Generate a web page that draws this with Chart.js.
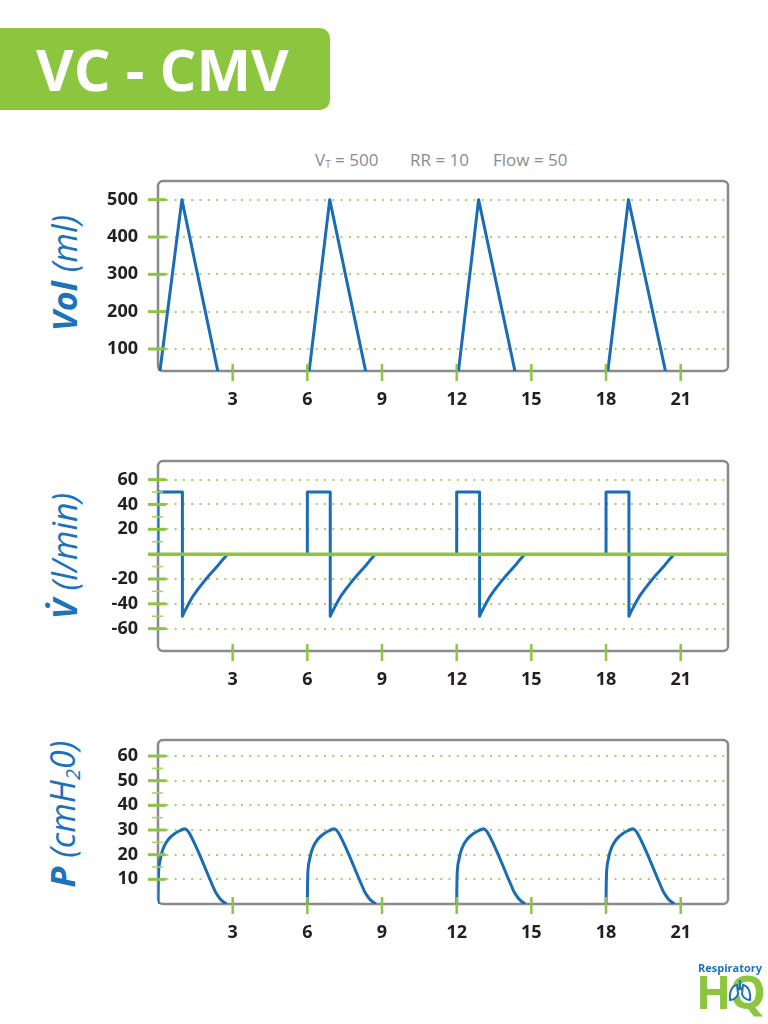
<!DOCTYPE html>
<html>
<head>
<meta charset="utf-8">
<title>VC - CMV</title>
<script src="https://cdn.jsdelivr.net/npm/chart.js@4.4.1/dist/chart.umd.min.js"></script>
<style>
  body { margin: 0; width: 768px; height: 1024px; background: #fff; position: relative; overflow: hidden; font-family: 'Open Sans', sans-serif; }
  .banner { position: absolute; left: -12px; top: 28px; width: 342px; height: 82px; background: #8cc63f; border-radius: 10px; color: #fff; font-weight: 700; font-size: 58px; line-height: 82px; padding-left: 48px; box-sizing: border-box; white-space: nowrap; }
  .settings { position: absolute; top: 149px; left: 0; color: #8c8c8c; font-size: 17px; line-height: 22px; white-space: nowrap; }
  .settings span { position: absolute; top: 0; }
  .settings sub { font-size: 10px; vertical-align: -2px; }
  .ytitle { position: absolute; left: 64px; color: #1c73ba; font-size: 34px; font-style: italic; white-space: nowrap; transform: translate(-50%, -50%) rotate(-90deg); line-height: 1; }
  .ytitle b { font-weight: 700; }
  .ytitle span { font-weight: 400; }
  .ytitle sub { font-size: 20px; vertical-align: -5px; }
  canvas { position: absolute; left: 0; }
  .logo1 { position: absolute; left: 698px; top: 960px; color: #1c73ba; font-weight: 700; font-size: 11px; }
  .logo2 { position: absolute; left: 696px; top: 966px; color: #8cc63f; font-weight: 700; font-size: 46px; line-height: 50px; letter-spacing: -2px; }
  .lungs { position: absolute; left: 727px; top: 978px; }
</style>
</head>
<body>
<div class="banner">VC - CMV</div>
<div class="settings">
  <span style="left:315px">V<sub>T</sub> = 500</span>
  <span style="left:410px">RR = 10</span>
  <span style="left:493px">Flow = 50</span>
</div>

<div class="ytitle" style="top:273px"><b>Vol</b> <span>(ml)</span></div>
<div class="ytitle" style="top:556px"><b>V&#775;</b> <span>(l/min)</span></div>
<div class="ytitle" style="top:814px"><b>P</b> <span>(cmH<sub>2</sub>0)</span></div>

<canvas id="volChart" width="768" height="250" style="top:170px"></canvas>
<canvas id="flowChart" width="768" height="250" style="top:450px"></canvas>
<canvas id="presChart" width="768" height="241" style="top:729px"></canvas>

<div class="logo1">Respiratory</div>
<div class="logo2">HQ</div>
<svg class="lungs" width="26" height="26" viewBox="0 0 26 26">
  <path d="M13 2 V12 M13 9 L9 13 M13 9 L17 13" stroke="#1c73ba" stroke-width="2" fill="none"/>
  <path d="M10 7 C4 8 2 16 3 22 C6 22 10 20 11 16 Z" stroke="#1c73ba" stroke-width="2" fill="#fff"/>
  <path d="M16 7 C22 8 24 16 23 22 C20 22 16 20 15 16 Z" stroke="#1c73ba" stroke-width="2" fill="#fff"/>
</svg>

<script>
// time axis (seconds)
const xTicks = [3, 6, 9, 12, 15, 18, 21];

// volume (ml)
const volTicks = [100, 200, 300, 400, 500];
const volTime  = [0, 0.96, 2.53, 6, 6.9, 8.47, 12, 12.88, 14.47, 18, 18.9, 20.52];
const volValue = [0, 500, 0, 0, 500, 0, 0, 500, 0, 0, 500, 0];

// flow (l/min)
const flowTicks = [60, 40, 20, -20, -40, -60];
const flowMinor = [50, 30, 10, -10, -30, -50];
const flowTime = [
  0, 0, 0.98, 0.98, 1.06, 1.16, 1.28, 1.42, 1.6, 1.82, 2.02, 2.22, 2.4, 2.56, 2.68, 2.79, 4,
  6, 6, 6.92, 6.92, 7.0, 7.1, 7.22, 7.36, 7.54, 7.76, 7.96, 8.16, 8.34, 8.5, 8.62, 8.73, 10,
  12, 12, 12.92, 12.92, 13.0, 13.1, 13.22, 13.36, 13.54, 13.76, 13.96, 14.16, 14.34, 14.5, 14.62, 14.73, 16,
  18, 18, 18.92, 18.92, 19.0, 19.1, 19.22, 19.36, 19.54, 19.76, 19.96, 20.16, 20.34, 20.5, 20.62, 20.73
];
const flowValue = [
  0, 50, 50, -50, -46.5, -42.7, -38.2, -33.4, -28.4, -22.7, -17.9, -13.4, -9.3, -5.4, -2.7, 0, null,
  0, 50, 50, -50, -46.5, -42.7, -38.2, -33.4, -28.4, -22.7, -17.9, -13.4, -9.3, -5.4, -2.7, 0, null,
  0, 50, 50, -50, -46.5, -42.7, -38.2, -33.4, -28.4, -22.7, -17.9, -13.4, -9.3, -5.4, -2.7, 0, null,
  0, 50, 50, -50, -46.5, -42.7, -38.2, -33.4, -28.4, -22.7, -17.9, -13.4, -9.3, -5.4, -2.7, 0
];

// pressure (cmH2O)
const presTicks = [10, 20, 30, 40, 50, 60];
const presMinor = [15, 25, 35, 45, 55];
const presTime = [
  0, 0.01, 0.03, 0.09, 0.16, 0.25, 0.38, 0.52, 0.68, 0.85, 1.0, 1.08, 1.16, 1.25, 2.2, 2.3, 2.4, 2.5, 2.63, 2.75, 4,
  6, 6.01, 6.03, 6.09, 6.16, 6.25, 6.38, 6.52, 6.68, 6.85, 7.0, 7.08, 7.16, 7.25, 8.2, 8.3, 8.4, 8.5, 8.63, 8.75, 10,
  12, 12.01, 12.03, 12.09, 12.16, 12.25, 12.38, 12.52, 12.68, 12.85, 13.0, 13.08, 13.16, 13.25, 14.2, 14.3, 14.4, 14.5, 14.63, 14.75, 16,
  18, 18.01, 18.03, 18.09, 18.16, 18.25, 18.38, 18.52, 18.68, 18.85, 19.0, 19.08, 19.16, 19.25, 20.2, 20.3, 20.4, 20.5, 20.63, 20.75
];
const presValue = [
  0, 9, 14, 18, 21, 23.5, 25.7, 27.3, 28.6, 29.6, 30.3, 30.5, 30, 28.9, 7.3, 5, 3.4, 2, 0.8, 0, null,
  0, 9, 14, 18, 21, 23.5, 25.7, 27.3, 28.6, 29.6, 30.3, 30.5, 30, 28.9, 7.3, 5, 3.4, 2, 0.8, 0, null,
  0, 9, 14, 18, 21, 23.5, 25.7, 27.3, 28.6, 29.6, 30.3, 30.5, 30, 28.9, 7.3, 5, 3.4, 2, 0.8, 0, null,
  0, 9, 14, 18, 21, 23.5, 25.7, 27.3, 28.6, 29.6, 30.3, 30.5, 30, 28.9, 7.3, 5, 3.4, 2, 0.8, 0
];

const GREEN = '#8cc63f';
const BLUE = '#1a6cb5';
const labelFont = { family: 'Open Sans', weight: 'bold', size: 18 };

// frame, green tick marks and zero line
const decor = {
  id: 'decor',
  beforeDatasetsDraw(chart) {
    const { ctx, chartArea: a } = chart;
    ctx.save();
    ctx.strokeStyle = '#8a8a8a';
    ctx.lineWidth = 2.5;
    ctx.beginPath();
    ctx.roundRect(a.left, a.top, a.right - a.left, a.bottom - a.top, 5);
    ctx.stroke();
    ctx.restore();
  },
  afterDatasetsDraw(chart, args, opts) {
    const { ctx, chartArea: a, scales: { x, y } } = chart;
    ctx.save();
    ctx.strokeStyle = GREEN;
    if (opts.zero) {
      const py = y.getPixelForValue(0);
      ctx.lineWidth = 3.5;
      ctx.beginPath(); ctx.moveTo(a.left - 10, py); ctx.lineTo(a.right, py); ctx.stroke();
    }
    ctx.lineWidth = 3;
    y.ticks.forEach(t => {
      const py = y.getPixelForValue(t.value);
      ctx.beginPath(); ctx.moveTo(a.left - 10, py); ctx.lineTo(a.left + 8, py); ctx.stroke();
    });
    ctx.lineWidth = 1.6;
    ctx.strokeStyle = '#a6d46b';
    (opts.minor || []).forEach(v => {
      const py = y.getPixelForValue(v);
      ctx.beginPath(); ctx.moveTo(a.left - 6, py); ctx.lineTo(a.left + 5, py); ctx.stroke();
    });
    ctx.strokeStyle = GREEN;
    ctx.lineWidth = 2.5;
    x.ticks.forEach(t => {
      const px = x.getPixelForValue(t.value);
      ctx.beginPath(); ctx.moveTo(px, a.bottom - 7); ctx.lineTo(px, a.bottom + 10); ctx.stroke();
    });
    ctx.restore();
  }
};

function makeChart(id, cfg) {
  const ctx = document.getElementById(id).getContext('2d');
  return new Chart(ctx, {
    type: 'line',
    data: {
      datasets: [{
        data: cfg.time.map((t, i) => ({ x: t, y: cfg.value[i] })),
        borderColor: BLUE,
        borderWidth: 3,
        pointRadius: 0,
        fill: false,
        spanGaps: false,
        tension: 0,
        cubicInterpolationMode: cfg.mono ? 'monotone' : 'default',
        borderJoinStyle: 'round'
      }]
    },
    options: {
      responsive: false,
      devicePixelRatio: 1,
      animation: false,
      events: [],
      layout: { padding: { top: 11, right: 40, left: 0, bottom: 0 } },
      plugins: {
        legend: { display: false },
        tooltip: { enabled: false },
        decor: { zero: cfg.zero, minor: cfg.minor }
      },
      scales: {
        x: {
          type: 'linear', min: 0, max: 22.9,
          grid: { display: false, drawTicks: false },
          border: { display: false },
          afterBuildTicks: s => { s.ticks = xTicks.map(v => ({ value: v })); },
          afterFit: s => { s.height = cfg.xHeight; s.paddingLeft = 0; s.paddingRight = 0; },
          ticks: { color: '#231f20', font: labelFont, padding: 18, maxRotation: 0, autoSkip: false }
        },
        y: {
          min: cfg.min, max: cfg.max,
          grid: { color: '#a3d166', lineWidth: 2, drawTicks: false },
          border: { display: false, dash: [2, 6.3] },
          afterBuildTicks: s => { s.ticks = cfg.ticks.map(v => ({ value: v })); },
          afterFit: s => { s.width = 158; s.paddingTop = 0; s.paddingBottom = 0; },
          ticks: { color: '#231f20', font: labelFont, padding: 20 }
        }
      }
    },
    plugins: [decor]
  });
}

const volChart = makeChart('volChart', {
  time: volTime, value: volValue, ticks: volTicks, min: 41, max: 550, xHeight: 49
});

const flowChart = makeChart('flowChart', {
  time: flowTime, value: flowValue, ticks: flowTicks, minor: flowMinor, zero: true,
  min: -78, max: 75, xHeight: 49
});

const presChart = makeChart('presChart', {
  time: presTime, value: presValue, ticks: presTicks, minor: presMinor, mono: true,
  min: 0, max: 66.5, xHeight: 66
});
</script>
</body>
</html>
